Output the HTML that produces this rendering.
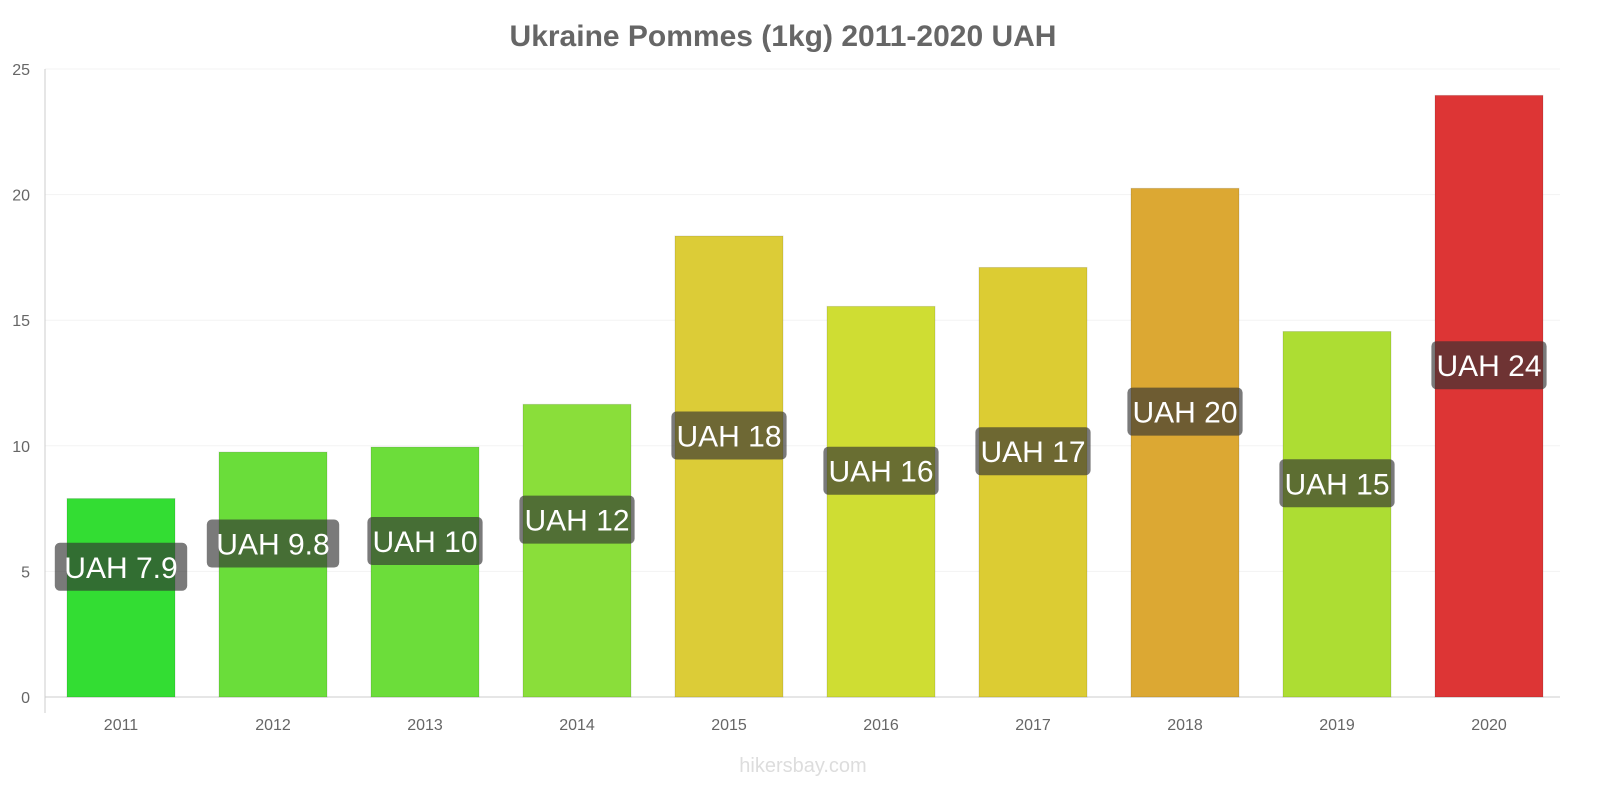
<!DOCTYPE html>
<html><head><meta charset="utf-8"><style>
body{margin:0;background:#fff;font-family:"Liberation Sans",sans-serif;}
svg text{font-family:"Liberation Sans",sans-serif;}
</style></head><body>
<svg id="chart" width="1600" height="800" xmlns="http://www.w3.org/2000/svg">
<text x="783" y="46" text-anchor="middle" font-size="30" font-weight="bold" fill="#666">Ukraine Pommes (1kg) 2011-2020 UAH</text>
<text x="803" y="772" text-anchor="middle" font-size="20" fill="#ddd">hikersbay.com</text>
<g id="grid"></g><g id="bars"></g><g id="labels"></g>
</svg>
<script>
const categories=["2011","2012","2013","2014","2015","2016","2017","2018","2019","2020"];
const values=[7.9,9.75,9.95,11.65,18.35,15.55,17.1,20.25,14.55,23.95];
const valueLabels=["UAH 7.9","UAH 9.8","UAH 10","UAH 12","UAH 18","UAH 16","UAH 17","UAH 20","UAH 15","UAH 24"];
const colors=["#33dd33","#6add3a","#6cdd3a","#8ade3a","#dccc37","#cfdd33","#dccc33","#dca833","#addd33","#dd3535"];
const yTicks=[0,5,10,15,20,25];
const NS="http://www.w3.org/2000/svg";
const y0=697,yTop=69,yMax=25;
function yS(v){return y0-(v/yMax)*(y0-yTop);}
function xC(i){return 121+i*152;}
function mk(tag,attrs,parent){const e=document.createElementNS(NS,tag);for(const k in attrs)e.setAttribute(k,attrs[k]);parent.appendChild(e);return e;}
const grid=document.getElementById('grid'),bars=document.getElementById('bars'),labels=document.getElementById('labels');
yTicks.forEach(t=>{
  if(t>0){const g=mk('line',{x1:45,x2:1560,y1:yS(t),y2:yS(t),stroke:'#f3f3f3'},grid);
  
  }
  const tx=mk('text',{x:30,y:yS(t)+6,'text-anchor':'end','font-size':16,fill:'#666'},grid);
  tx.textContent=t;
  
  
});
const ax=mk('line',{x1:45,x2:45,y1:yTop,y2:713,stroke:'#ccc'},grid);


const bx=mk('line',{x1:45,x2:1560,y1:y0,y2:y0,stroke:'#ccc'},grid);


categories.forEach((c,i)=>{
  const x=xC(i),top=yS(values[i]);
  const r=mk('rect',{x:x-54,y:top,width:108,height:y0-top,fill:colors[i],stroke:'rgba(0,0,0,0.12)'},bars);
  
  
  const xl=mk('text',{x:x,y:730,'text-anchor':'middle','font-size':16,fill:'#666'},labels);
  xl.textContent=c;
  
  
  const cy=(top+y0)/2-31;
  const txt=valueLabels[i];
  const w=txt.length*17.2+12;
  const bg=mk('rect',{x:x-w/2,y:cy-24,width:w,height:48,rx:5,fill:'rgba(50,50,50,0.65)'},labels);
  
  
  const vt=mk('text',{x:x,y:cy+11,'text-anchor':'middle','font-size':30,fill:'#fff'},labels);
  vt.textContent=txt;
  
  
});
</script>
</body></html>
